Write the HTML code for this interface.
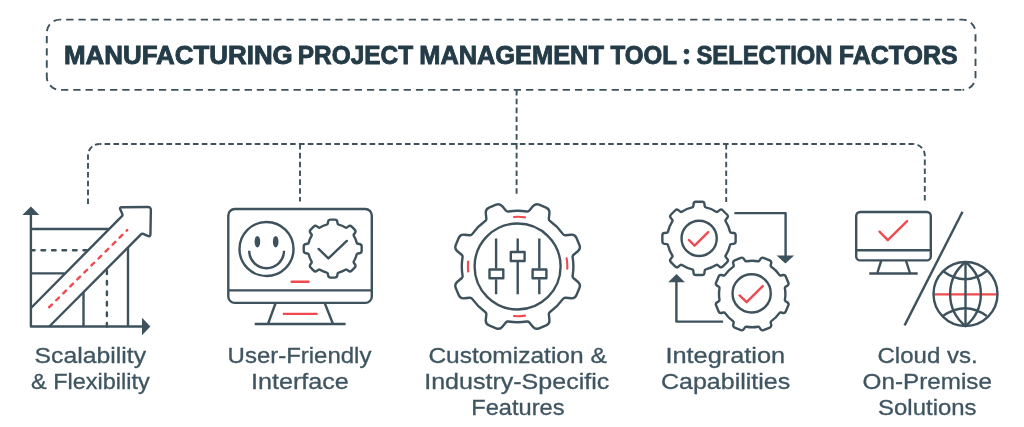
<!DOCTYPE html>
<html><head><meta charset="utf-8"><style>
html,body{margin:0;padding:0;background:#fff;width:1024px;height:427px;overflow:hidden}
svg{position:absolute;left:0;top:0;will-change:transform}
text{font-family:"Liberation Sans",sans-serif}
</style></head><body>
<svg width="1024" height="427" viewBox="0 0 1024 427">
<g fill="none" stroke="#3e525d" stroke-width="1.9" stroke-dasharray="7.3 4.935">
<path d="M59.8 19.6 H962.5 A13 13 0 0 1 975.5 32.6" stroke-dashoffset="-6.36"/>
<path d="M975.5 32.6 V76.9 A13 13 0 0 1 962.5 89.9" stroke-dashoffset="-1.7"/>
<path d="M962.5 89.9 H59.8 A13 13 0 0 1 46.8 76.9" stroke-dashoffset="-1.0"/>
<path d="M46.8 76.9 V32.6 A13 13 0 0 1 59.8 19.6" stroke-dashoffset="3"/>
</g>
<g fill="none" stroke="#3e525d" stroke-width="1.9" stroke-dasharray="5.6 3.234">
<path d="M99.5 144 H913.3" stroke-dashoffset="-5.1"/>
<path d="M88 204 V155.5 A11.5 11.5 0 0 1 99.5 144"/>
<path d="M924.8 200.5 V155.5 A11.5 11.5 0 0 0 913.3 144"/>
<path d="M300 144 V201.5"/>
<path d="M516.6 144 V193.8"/>
<path d="M726.2 144 V202"/>
<path d="M516.6 89.9 V144"/>
</g>
<g font-size="25" font-weight="bold" fill="#243c48" stroke="#243c48" stroke-width="0.85"><text x="64.00" y="64.00" textLength="228.77" lengthAdjust="spacingAndGlyphs">MANUFACTURING</text><text x="297.80" y="64.00" textLength="115.26" lengthAdjust="spacingAndGlyphs">PROJECT</text><text x="419.30" y="64.00" textLength="184.58" lengthAdjust="spacingAndGlyphs">MANAGEMENT</text><text x="610.60" y="64.00" textLength="66.41" lengthAdjust="spacingAndGlyphs">TOOL</text><text x="696.50" y="64.00" textLength="136.02" lengthAdjust="spacingAndGlyphs">SELECTION</text><text x="838.80" y="64.00" textLength="118.96" lengthAdjust="spacingAndGlyphs">FACTORS</text><circle cx="686.5" cy="51.6" r="2.4"/><circle cx="686.5" cy="61.7" r="2.4"/></g>

<g fill="none" stroke="#3e525d" stroke-width="2.4" stroke-linejoin="round" stroke-linecap="butt">
<!-- icon1 -->
<path d="M30.9 214 V326.5 H142"/>
<path d="M31 229 H109 M31 273.4 H64.6 M83.5 291.9 V326.5 M128 247.4 V326.5"/>
<path d="M31 250.3 H88 M106.9 326.5 V268.4" stroke-dasharray="3.6 6.9" stroke-linecap="round"/>
<path d="M31.00 308.00 L121.96 216.05 Q122.80 215.20 122.31 214.10 L120.31 209.59 Q119.30 207.30 121.80 207.28 L147.90 207.03 Q150.90 207.00 150.85 210.00 L150.45 234.20 Q150.40 237.20 147.68 235.92 L143.19 233.81 Q142.10 233.30 141.25 234.15 L49.30 326.50"/>
</g>
<path d="M22.4 215 L30.9 206.6 L39.3 215 Z M142 317.7 L150.4 326.5 L142 335.3 Z" fill="#3e525d"/>
<path d="M49.2 307.2 L127.2 230.1" stroke="#ef4a4f" stroke-width="2.4" stroke-dasharray="3.8 6.1" stroke-linecap="round" fill="none"/>

<!-- icon2 -->
<g fill="none" stroke="#3e525d" stroke-width="2.4" stroke-linejoin="round">
<rect x="228.3" y="209" width="143.5" height="93.9" rx="6.5"/>
<path d="M228.3 290.4 H371.8"/>
<path d="M275.8 302.5 L268 324 M324.5 302.5 L333 324 M254.7 324 H345.6"/>
<circle cx="266.5" cy="249" r="27"/>
<path d="M249.2 250.8 A17 17 0 0 0 284 250.8"/>
<path d="M326.73 224.63 Q327.70 224.41 327.84 223.42 L328.08 221.79 Q328.40 219.62 330.60 219.62 L334.80 219.62 Q337.00 219.62 337.32 221.79 L337.56 223.42 Q337.70 224.41 338.67 224.63 A24.70 24.70 0 0 1 345.42 227.43 Q346.27 227.96 347.07 227.36 L348.39 226.38 Q350.15 225.07 351.71 226.62 L354.68 229.59 Q356.23 231.15 354.92 232.91 L353.94 234.23 Q353.34 235.03 353.87 235.88 A24.70 24.70 0 0 1 356.67 242.63 Q356.89 243.60 357.88 243.74 L359.51 243.98 Q361.68 244.30 361.68 246.50 L361.68 250.70 Q361.68 252.90 359.51 253.22 L357.88 253.46 Q356.89 253.60 356.67 254.57 A24.70 24.70 0 0 1 353.87 261.32 Q353.34 262.17 353.94 262.97 L354.92 264.29 Q356.23 266.05 354.68 267.61 L351.71 270.58 Q350.15 272.13 348.39 270.82 L347.07 269.84 Q346.27 269.24 345.42 269.77 A24.70 24.70 0 0 1 338.67 272.57 Q337.70 272.79 337.56 273.78 L337.32 275.41 Q337.00 277.58 334.80 277.58 L330.60 277.58 Q328.40 277.58 328.08 275.41 L327.84 273.78 Q327.70 272.79 326.73 272.57 A24.70 24.70 0 0 1 319.98 269.77 Q319.13 269.24 318.33 269.84 L317.01 270.82 Q315.25 272.13 313.69 270.58 L310.72 267.61 Q309.17 266.05 310.48 264.29 L311.46 262.97 Q312.06 262.17 311.53 261.32 A24.70 24.70 0 0 1 308.73 254.57 Q308.51 253.60 307.52 253.46 L305.89 253.22 Q303.72 252.90 303.72 250.70 L303.72 246.50 Q303.72 244.30 305.89 243.98 L307.52 243.74 Q308.51 243.60 308.73 242.63 A24.70 24.70 0 0 1 311.53 235.88 Q312.06 235.03 311.46 234.23 L310.48 232.91 Q309.17 231.15 310.72 229.59 L313.69 226.62 Q315.25 225.07 317.01 226.38 L318.33 227.36 Q319.13 227.96 319.98 227.43 A24.70 24.70 0 0 1 326.73 224.63 Z"/>
<path d="M318.6 248.9 L328.4 258.4 L346.8 240.9" stroke-linecap="round"/>
</g>
<ellipse cx="257.4" cy="241.7" rx="2.8" ry="5.8" fill="#3e525d"/>
<ellipse cx="275.7" cy="241.7" rx="2.8" ry="5.8" fill="#3e525d"/>
<path d="M291.7 281.8 H308.6 M283.9 313.9 H316.6" stroke="#ef4a4f" stroke-width="2.4" fill="none" stroke-linecap="round"/>

<!-- icon3 -->
<g fill="none" stroke="#3e525d" stroke-width="2.4" stroke-linejoin="round">
<path d="M526.80 211.46 Q528.37 211.75 529.38 210.51 L532.87 206.25 Q535.40 203.15 539.09 204.68 L546.11 207.59 Q549.81 209.12 549.41 213.10 L548.86 218.58 Q548.70 220.17 550.01 221.08 A55.80 55.80 0 0 1 563.02 234.09 Q563.93 235.40 565.52 235.24 L571.00 234.69 Q574.98 234.29 576.51 237.99 L579.42 245.01 Q580.95 248.70 577.85 251.23 L573.59 254.72 Q572.35 255.73 572.64 257.30 A55.80 55.80 0 0 1 572.64 275.70 Q572.35 277.27 573.59 278.28 L577.85 281.77 Q580.95 284.30 579.42 287.99 L576.51 295.01 Q574.98 298.71 571.00 298.31 L565.52 297.76 Q563.93 297.60 563.02 298.91 A55.80 55.80 0 0 1 550.01 311.92 Q548.70 312.83 548.86 314.42 L549.41 319.90 Q549.81 323.88 546.11 325.41 L539.09 328.32 Q535.40 329.85 532.87 326.75 L529.38 322.49 Q528.37 321.25 526.80 321.54 A55.80 55.80 0 0 1 508.40 321.54 Q506.83 321.25 505.82 322.49 L502.33 326.75 Q499.80 329.85 496.11 328.32 L489.09 325.41 Q485.39 323.88 485.79 319.90 L486.34 314.42 Q486.50 312.83 485.19 311.92 A55.80 55.80 0 0 1 472.18 298.91 Q471.27 297.60 469.68 297.76 L464.20 298.31 Q460.22 298.71 458.69 295.01 L455.78 287.99 Q454.25 284.30 457.35 281.77 L461.61 278.28 Q462.85 277.27 462.56 275.70 A55.80 55.80 0 0 1 462.56 257.30 Q462.85 255.73 461.61 254.72 L457.35 251.23 Q454.25 248.70 455.78 245.01 L458.69 237.99 Q460.22 234.29 464.20 234.69 L469.68 235.24 Q471.27 235.40 472.18 234.09 A55.80 55.80 0 0 1 485.19 221.08 Q486.50 220.17 486.34 218.58 L485.79 213.10 Q485.39 209.12 489.09 207.59 L496.11 204.68 Q499.80 203.15 502.33 206.25 L505.82 210.51 Q506.83 211.75 508.40 211.46 A55.80 55.80 0 0 1 526.80 211.46 Z"/>
<circle cx="517.6" cy="266.5" r="43"/>
<path d="M496.1 238.5 V268.5 M496.1 279.2 V294.3 M517.7 238.5 V251 M517.7 262 V294.3 M539.3 238.5 V268.5 M539.3 279.2 V294.3"/>
<rect x="489.5" y="269.5" width="13.8" height="8.7"/>
<rect x="510.8" y="252" width="13.8" height="9"/>
<rect x="532.6" y="269.5" width="13.8" height="8.7"/>
</g>
<path d="M514.05 216.93 A49.70 49.70 0 0 1 524.95 217.35 M566.60 258.21 A49.70 49.70 0 0 1 567.25 268.75 M524.95 315.65 A49.70 49.70 0 0 1 514.05 316.07 M468.15 271.52 A49.70 49.70 0 0 1 468.15 261.48" stroke="#ef4a4f" stroke-width="2.1" fill="none" stroke-linecap="round"/>

<!-- icon4 -->
<g fill="none" stroke="#3e525d" stroke-width="2.4" stroke-linejoin="round">
<path d="M692.22 207.43 Q693.20 207.24 693.31 206.24 L693.58 203.76 Q693.80 201.77 695.80 201.77 L702.20 201.77 Q704.20 201.77 704.42 203.76 L704.69 206.24 Q704.80 207.24 705.78 207.43 A31.70 31.70 0 0 1 716.10 211.71 Q716.94 212.26 717.72 211.64 L719.67 210.07 Q721.23 208.82 722.64 210.23 L727.17 214.76 Q728.58 216.17 727.33 217.73 L725.76 219.68 Q725.14 220.46 725.69 221.30 A31.70 31.70 0 0 1 729.97 231.62 Q730.16 232.60 731.16 232.71 L733.64 232.98 Q735.63 233.20 735.63 235.20 L735.63 241.60 Q735.63 243.60 733.64 243.82 L731.16 244.09 Q730.16 244.20 729.97 245.18 A31.70 31.70 0 0 1 725.69 255.50 Q725.14 256.34 725.76 257.12 L727.33 259.07 Q728.58 260.63 727.17 262.04 L722.64 266.57 Q721.23 267.98 719.67 266.73 L717.72 265.16 Q716.94 264.54 716.10 265.09 A31.70 31.70 0 0 1 705.78 269.37 Q704.80 269.56 704.69 270.56 L704.42 273.04 Q704.20 275.03 702.20 275.03 L695.80 275.03 Q693.80 275.03 693.58 273.04 L693.31 270.56 Q693.20 269.56 692.22 269.37 A31.70 31.70 0 0 1 681.90 265.09 Q681.06 264.54 680.28 265.16 L678.33 266.73 Q676.77 267.98 675.36 266.57 L670.83 262.04 Q669.42 260.63 670.67 259.07 L672.24 257.12 Q672.86 256.34 672.31 255.50 A31.70 31.70 0 0 1 668.03 245.18 Q667.84 244.20 666.84 244.09 L664.36 243.82 Q662.37 243.60 662.37 241.60 L662.37 235.20 Q662.37 233.20 664.36 232.98 L666.84 232.71 Q667.84 232.60 668.03 231.62 A31.70 31.70 0 0 1 672.31 221.30 Q672.86 220.46 672.24 219.68 L670.67 217.73 Q669.42 216.17 670.83 214.76 L675.36 210.23 Q676.77 208.82 678.33 210.07 L680.28 211.64 Q681.06 212.26 681.90 211.71 A31.70 31.70 0 0 1 692.22 207.43 Z"/>
<path d="M757.87 261.29 Q758.85 261.47 759.39 260.63 L760.57 258.78 Q761.64 257.09 763.49 257.85 L769.77 260.46 Q771.62 261.22 771.19 263.17 L770.71 265.32 Q770.49 266.30 771.32 266.86 A33.20 33.20 0 0 1 779.34 274.88 Q779.90 275.71 780.88 275.49 L783.03 275.01 Q784.98 274.58 785.74 276.43 L788.35 282.71 Q789.11 284.56 787.42 285.63 L785.57 286.81 Q784.73 287.35 784.91 288.33 A33.20 33.20 0 0 1 784.91 299.67 Q784.73 300.65 785.57 301.19 L787.42 302.37 Q789.11 303.44 788.35 305.29 L785.74 311.57 Q784.98 313.42 783.03 312.99 L780.88 312.51 Q779.90 312.29 779.34 313.12 A33.20 33.20 0 0 1 771.32 321.14 Q770.49 321.70 770.71 322.68 L771.19 324.83 Q771.62 326.78 769.77 327.54 L763.49 330.15 Q761.64 330.91 760.57 329.22 L759.39 327.37 Q758.85 326.53 757.87 326.71 A33.20 33.20 0 0 1 746.53 326.71 Q745.55 326.53 745.01 327.37 L743.83 329.22 Q742.76 330.91 740.91 330.15 L734.63 327.54 Q732.78 326.78 733.21 324.83 L733.69 322.68 Q733.91 321.70 733.08 321.14 A33.20 33.20 0 0 1 725.06 313.12 Q724.50 312.29 723.52 312.51 L721.37 312.99 Q719.42 313.42 718.66 311.57 L716.05 305.29 Q715.29 303.44 716.98 302.37 L718.83 301.19 Q719.67 300.65 719.49 299.67 A33.20 33.20 0 0 1 719.49 288.33 Q719.67 287.35 718.83 286.81 L716.98 285.63 Q715.29 284.56 716.05 282.71 L718.66 276.43 Q719.42 274.58 721.37 275.01 L723.52 275.49 Q724.50 275.71 725.06 274.88 A33.20 33.20 0 0 1 733.08 266.86 Q733.91 266.30 733.69 265.32 L733.21 263.17 Q732.78 261.22 734.63 260.46 L740.91 257.85 Q742.76 257.09 743.83 258.78 L745.01 260.63 Q745.55 261.47 746.53 261.29 A33.20 33.20 0 0 1 757.87 261.29 Z"/>
<circle cx="699.15" cy="238.4" r="17.6"/>
<circle cx="751.65" cy="293.4" r="19.1"/>
<path d="M734.4 213.1 H785.6 V256"/>
<path d="M676.4 282 V321.6 H723.1"/>
</g>
<path d="M776.6 255.4 L794.1 255.4 L785.4 263.6 Z M668.2 282.2 L684.9 282.2 L676.5 274 Z" fill="#3e525d"/>
<path d="M688.9 240 L694.6 245.7 L708.2 232.1 M739.6 295.4 L746.6 302.2 L762.7 286.1" stroke="#ef4a4f" stroke-width="2.4" fill="none" stroke-linejoin="round" stroke-linecap="round"/>

<!-- icon5 -->
<path d="M933.4 294.4 H997.1" stroke="#ef4a4f" stroke-width="2.4" fill="none"/>
<g fill="none" stroke="#3e525d" stroke-width="2.4" stroke-linejoin="round">
<rect x="856.2" y="212" width="74.6" height="48.4" rx="4"/>
<path d="M856.2 250.3 H930.8 M881.3 260.4 L877.2 273.5 M905.9 260.4 L910.1 273.5 M869.3 273.5 H917.7"/>
<path d="M962.5 211.7 L904.6 325.4"/>
<circle cx="965.5" cy="294" r="32"/>
<path d="M965.5 262 A41 41 0 0 0 965.5 326 A41 41 0 0 0 965.5 262 Z"/>
<path d="M965.5 262 V326"/>
<path d="M942.8 271 Q965.5 287.6 986.8 271 M942.8 316 Q965.5 300.4 986.8 316"/>
</g>
<path d="M879.5 231.7 L887.8 240.1 L907.1 221.2" stroke="#ef4a4f" stroke-width="2.4" fill="none" stroke-linejoin="round" stroke-linecap="round"/>

<g font-size="21.2" fill="#3f5561" stroke="#3f5561" stroke-width="0.3"><text x="34.50" y="362.50" textLength="111.55" lengthAdjust="spacingAndGlyphs">Scalability</text><text x="31.10" y="388.90" textLength="118.65" lengthAdjust="spacingAndGlyphs">&amp; Flexibility</text><text x="227.60" y="362.50" textLength="143.84" lengthAdjust="spacingAndGlyphs">User-Friendly</text><text x="250.90" y="388.90" textLength="97.98" lengthAdjust="spacingAndGlyphs">Interface</text><text x="428.40" y="362.50" textLength="178.34" lengthAdjust="spacingAndGlyphs">Customization &amp;</text><text x="424.20" y="388.90" textLength="185.08" lengthAdjust="spacingAndGlyphs">Industry-Specific</text><text x="471.30" y="415.20" textLength="93.24" lengthAdjust="spacingAndGlyphs">Features</text><text x="665.40" y="362.50" textLength="119.76" lengthAdjust="spacingAndGlyphs">Integration</text><text x="661.00" y="388.90" textLength="129.24" lengthAdjust="spacingAndGlyphs">Capabilities</text><text x="877.50" y="362.50" textLength="100.10" lengthAdjust="spacingAndGlyphs">Cloud vs.</text><text x="862.60" y="388.90" textLength="129.27" lengthAdjust="spacingAndGlyphs">On-Premise</text><text x="878.10" y="415.20" textLength="98.49" lengthAdjust="spacingAndGlyphs">Solutions</text></g>
</svg>
</body></html>
